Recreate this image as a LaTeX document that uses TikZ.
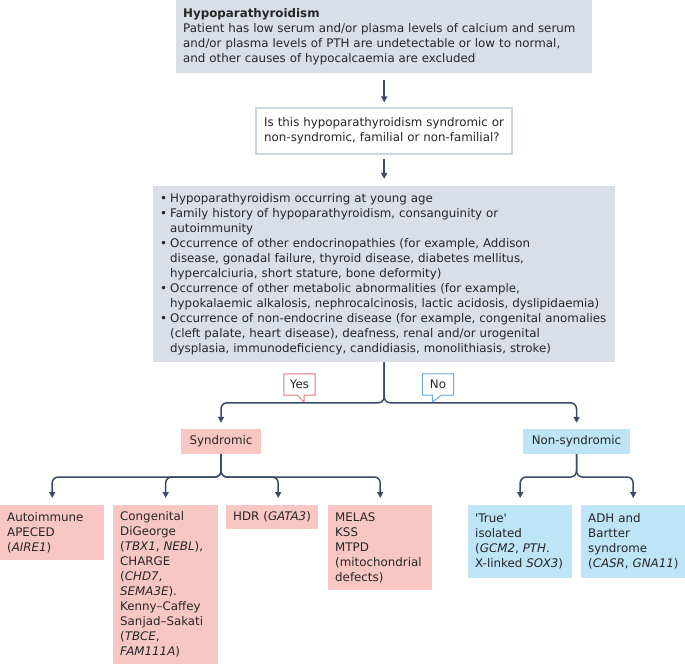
\documentclass[tikz,border=0pt]{standalone}
\usepackage{fontspec}
\setmainfont{DejaVu Sans}
\usetikzlibrary{positioning,calc,arrows.meta}
\definecolor{boxgray}{RGB}{218,223,231}
\definecolor{synpink}{RGB}{248,199,195}
\definecolor{nsblue}{RGB}{189,228,247}
\definecolor{linenavy}{RGB}{58,74,104}
\definecolor{qborder}{RGB}{205,214,228}
\definecolor{yesred}{RGB}{228,120,120}
\definecolor{noblue}{RGB}{104,170,222}
\definecolor{txt}{RGB}{38,38,38}
\hyphenpenalty=10000
\exhyphenpenalty=10000
\newcommand{\bitem}{\makebox[10pt][l]{\textbullet}}
\newcommand{\bcont}{\hspace*{10pt}}
\begin{document}
\begin{tikzpicture}[x=1pt,y=-1pt,font=\fontsize{11.85}{15}\selectfont,text=txt]
		\tikzstyle{graybox} = [fill=boxgray, anchor=north west, align=left, inner xsep=7pt, inner ysep=5pt];
		\tikzstyle{qbox} = [draw=qborder, line width=1.5pt, fill=white, align=left, inner xsep=8pt, minimum height=46pt];
		\tikzstyle{pinkbox} = [fill=synpink, anchor=north west, align=left, inner xsep=7pt, inner ysep=4pt];
		\tikzstyle{bluebox} = [fill=nsblue, anchor=north west, align=left, inner xsep=7pt, inner ysep=4pt];
		\tikzstyle{lbl} = [inner sep=0pt, minimum width=31pt, minimum height=21pt];
		\tikzstyle{arr} = [draw=linenavy, line width=1.5pt, -{Triangle[length=6pt,width=6pt]}];
		\tikzstyle{tree} = [arr, rounded corners=6pt];
		\useasboundingbox (0,0) rectangle (685,664);
		\node[graybox, text width=402pt, minimum height=73pt](hypo) at (176,0) {\textbf{Hypoparathyroidism}\\
			Patient has low serum and/or plasma levels of calcium and serum\\
			and/or plasma levels of PTH are undetectable or low to normal,\\
			and other causes of hypocalcaemia are excluded};
		\node[qbox, below=34pt of hypo, text width=240pt](question) {\mbox{Is this hypoparathyroidism syndromic or}\\
			non-syndromic, familial or non-familial?};
		\node[graybox, below=31pt of question, text width=448pt, minimum height=176pt](criteria) {\bitem Hypoparathyroidism occurring at young age\\
			\bitem Family history of hypoparathyroidism, consanguinity or\\
			\bcont autoimmunity\\
			\bitem Occurrence of other endocrinopathies (for example, Addison\\
			\bcont disease, gonadal failure, thyroid disease, diabetes mellitus,\\
			\bcont hypercalciuria, short stature, bone deformity)\\
			\bitem Occurrence of other metabolic abnormalities (for example,\\
			\bcont hypokalaemic alkalosis, nephrocalcinosis, lactic acidosis, dyslipidaemia)\\
			\bitem Occurrence of non-endocrine disease (for example, congenital anomalies\\
			\bcont (cleft palate, heart disease), deafness, renal and/or urogenital\\
			\bcont dysplasia, immunodeficiency, candidiasis, monolithiasis, stroke)};
		\node[fill=synpink, minimum width=80pt, minimum height=25pt](syndromic) at (221,441.5) {Syndromic};
		\node[fill=nsblue, minimum width=107pt, minimum height=25pt](nonsyndromic) at (576.5,441.5) {Non-syndromic};
		\node[pinkbox, text width=90pt, minimum height=55pt](apeced) at (0,505) {Autoimmune\\ APECED\\ (\textit{AIRE1})};
		\node[pinkbox, text width=91pt, minimum height=159pt](congenital) at (113,505) {Congenital\\ DiGeorge\\ (\textit{TBX1}, \textit{NEBL}),\\ CHARGE\\ (\textit{CHD7},\\ \textit{SEMA3E}).\\ Kenny–Caffey\\ Sanjad–Sakati\\ (\textit{TBCE},\\ \textit{FAM111A})};
		\node[pinkbox, text width=78pt, minimum height=24pt](hdr) at (226,505) {HDR (\textit{GATA3})};
		\node[pinkbox, text width=90pt, minimum height=85pt](mito) at (328,505) {MELAS\\ KSS\\ MTPD\\ (mitochondrial\\ defects)};
		\node[bluebox, text width=90pt, minimum height=73pt](isolated) at (468,505) {\textquotesingle True\textquotesingle\\ isolated\\ (\textit{GCM2}, \textit{PTH}.\\ X-linked \textit{SOX3})};
		\node[bluebox, text width=90pt, minimum height=73pt](adh) at (581,505) {ADH and\\ Bartter\\ syndrome\\ \mbox{(\textit{CASR}, \textit{GNA11})}};
		\node[lbl](yes) at (299.5,384.5) {Yes};
		\node[lbl](no) at (438,384.5) {No};
		\draw[draw=yesred, line width=1pt] (yes.south west) -- (yes.north west) -- (yes.north east) -- (yes.south east) -- ($(yes.south east)+(-11,0)$) -- ++(0,7) -- ++(-7,-7) -- cycle;
		\draw[draw=noblue, line width=1pt] (no.south west) -- (no.north west) -- (no.north east) -- (no.south east) -- ($(no.south west)+(19,0)$) -- ++(-9,7) -- ++(0,-7) -- cycle;
		\draw[arr, shorten <=7pt, shorten >=5pt] (hypo) to (question);
		\draw[arr, shorten <=4pt, shorten >=7pt] (question) to (criteria);
		\draw[tree] (criteria.south) |- ($(syndromic.north)+(0,-26)$) -- ($(syndromic.north)+(0,-6)$);
		\draw[tree] (criteria.south) |- ($(nonsyndromic.north)+(0,-26)$) -- ($(nonsyndromic.north)+(0,-6)$);
		\draw[tree] (syndromic.south) |- ($(apeced.north)+(0,-28)$) -- ($(apeced.north)+(0,-7)$);
		\draw[tree] (syndromic.south) |- ($(congenital.north)+(0,-28)$) -- ($(congenital.north)+(0,-7)$);
		\draw[tree] (syndromic.south) |- ($(hdr.north)+(6,-28)$) -- ($(hdr.north)+(6,-7)$);
		\draw[tree] (syndromic.south) |- ($(mito.north)+(0,-28)$) -- ($(mito.north)+(0,-7)$);
		\draw[tree] (nonsyndromic.south) |- ($(isolated.north)+(0,-28)$) -- ($(isolated.north)+(0,-7)$);
		\draw[tree] (nonsyndromic.south) |- ($(adh.north)+(0,-28)$) -- ($(adh.north)+(0,-7)$);
	\end{tikzpicture}
\end{document}
